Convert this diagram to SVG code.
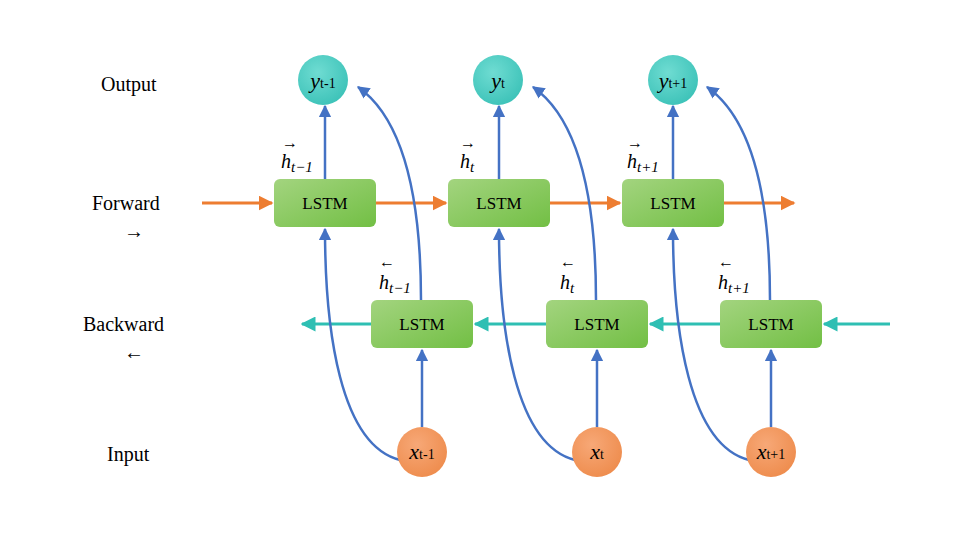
<svg xmlns="http://www.w3.org/2000/svg" width="960" height="540" viewBox="0 0 960 540">
<defs>
<linearGradient id="g" x1="0" y1="0" x2="1" y2="1"><stop offset="0" stop-color="#a3d47f"/><stop offset="1" stop-color="#72bf44"/></linearGradient>
<radialGradient id="ct" cx="0.4" cy="0.35" r="0.7"><stop offset="0" stop-color="#6fdcd2"/><stop offset="1" stop-color="#3cc2b8"/></radialGradient>
<radialGradient id="co" cx="0.4" cy="0.35" r="0.7"><stop offset="0" stop-color="#f7a877"/><stop offset="1" stop-color="#ee8c4d"/></radialGradient>
<marker id="ab" viewBox="0 0 10 10" refX="9" refY="5" markerWidth="5" markerHeight="5" orient="auto"><path d="M0,0L10,5L0,10z" fill="#4472c4"/></marker>
<marker id="ao" viewBox="0 0 10 10" refX="9" refY="5" markerWidth="5" markerHeight="5" orient="auto"><path d="M0,0L10,5L0,10z" fill="#ed7d31"/></marker>
<marker id="at" viewBox="0 0 10 10" refX="9" refY="5" markerWidth="5" markerHeight="5" orient="auto"><path d="M0,0L10,5L0,10z" fill="#2ebfb3"/></marker>
</defs>
<style>
.lab{font-family:"Liberation Serif",serif;font-size:20px;fill:#000}
.box{fill:url(#g)}
.bt{font-family:"Liberation Serif",serif;font-size:17px;text-anchor:middle}
.ci{font-family:"Liberation Serif",serif;font-size:22px;text-anchor:middle;font-style:italic}
.sub{font-style:normal;font-size:14px}
.h{font-family:"Liberation Serif",serif;font-size:20px;font-style:italic}
.b{stroke:#4472c4;stroke-width:2.5;fill:none;marker-end:url(#ab)}
.o{stroke:#ed7d31;stroke-width:3;fill:none;marker-end:url(#ao)}
.t{stroke:#2ebfb3;stroke-width:3;fill:none;marker-end:url(#at)}
</style>
<rect width="960" height="540" fill="#fff"/>
<text class="lab" x="101" y="91">Output</text>
<text class="lab" x="92" y="210">Forward</text>
<text class="lab" x="124" y="238">→</text>
<text class="lab" x="83" y="331">Backward</text>
<text class="lab" x="124" y="359">←</text>
<text class="lab" x="107" y="461">Input</text>
<g id="connectors">
<path class="o" d="M202,203H272"/><path class="o" d="M376,203H446"/><path class="o" d="M550,203H620"/><path class="o" d="M724,203H794"/>
<path class="t" d="M890,324H824"/><path class="t" d="M720,324H650"/><path class="t" d="M546,324H475"/><path class="t" d="M371,324H302"/>
<path class="b" d="M325,179V106"/><path class="b" d="M499,179V106"/><path class="b" d="M673,179V106"/>
<path class="b" d="M422,427V350"/><path class="b" d="M597,427V350"/><path class="b" d="M771,427V350"/>
<path class="b" d="M421,300C421,200 405,120 358,87"/><path class="b" d="M596,300C596,200 580,120 533,87"/><path class="b" d="M770,300C770,200 754,120 707,87"/>
<path class="b" d="M400,460C340,445 325,330 325,229"/><path class="b" d="M575,460C515,445 499,330 499,229"/><path class="b" d="M749,460C689,445 673,330 673,229"/>
</g>
<g id="f1"><rect class="box" x="274" y="179" width="102" height="48" rx="6"/><text class="bt" x="325" y="209">LSTM</text></g>
<g id="f2"><rect class="box" x="448" y="179" width="102" height="48" rx="6"/><text class="bt" x="499" y="209">LSTM</text></g>
<g id="f3"><rect class="box" x="622" y="179" width="102" height="48" rx="6"/><text class="bt" x="673" y="209">LSTM</text></g>
<g id="b1"><rect class="box" x="371" y="300" width="102" height="48" rx="6"/><text class="bt" x="422" y="330">LSTM</text></g>
<g id="b2"><rect class="box" x="546" y="300" width="102" height="48" rx="6"/><text class="bt" x="597" y="330">LSTM</text></g>
<g id="b3"><rect class="box" x="720" y="300" width="102" height="48" rx="6"/><text class="bt" x="771" y="330">LSTM</text></g>
<g id="y1"><circle cx="323" cy="80" r="25" fill="url(#ct)"/><text class="ci" x="323" y="88">y<tspan class="sub">t-1</tspan></text></g>
<g id="y2"><circle cx="498" cy="80" r="25" fill="url(#ct)"/><text class="ci" x="498" y="88">y<tspan class="sub">t</tspan></text></g>
<g id="y3"><circle cx="673" cy="80" r="25" fill="url(#ct)"/><text class="ci" x="673" y="88">y<tspan class="sub">t+1</tspan></text></g>
<g id="x1"><circle cx="422" cy="452" r="25" fill="url(#co)"/><text class="ci" x="422" y="459">x<tspan class="sub">t-1</tspan></text></g>
<g id="x2"><circle cx="597" cy="452" r="25" fill="url(#co)"/><text class="ci" x="597" y="459">x<tspan class="sub">t</tspan></text></g>
<g id="x3"><circle cx="771" cy="452" r="25" fill="url(#co)"/><text class="ci" x="771" y="459">x<tspan class="sub">t+1</tspan></text></g>
<g id="hlabels" class="h">
<text x="282" y="148" font-style="normal" font-size="16">→</text><text x="281" y="168">h<tspan font-size="15" dy="4">t−1</tspan></text>
<text x="460" y="148" font-style="normal" font-size="16">→</text><text x="460" y="168">h<tspan font-size="15" dy="4">t</tspan></text>
<text x="627" y="148" font-style="normal" font-size="16">→</text><text x="627" y="168">h<tspan font-size="15" dy="4">t+1</tspan></text>
<text x="379" y="267" font-style="normal" font-size="16">←</text><text x="379" y="289">h<tspan font-size="15" dy="4">t−1</tspan></text>
<text x="560" y="267" font-style="normal" font-size="16">←</text><text x="560" y="289">h<tspan font-size="15" dy="4">t</tspan></text>
<text x="718" y="267" font-style="normal" font-size="16">←</text><text x="718" y="289">h<tspan font-size="15" dy="4">t+1</tspan></text>
</g>
</svg>
